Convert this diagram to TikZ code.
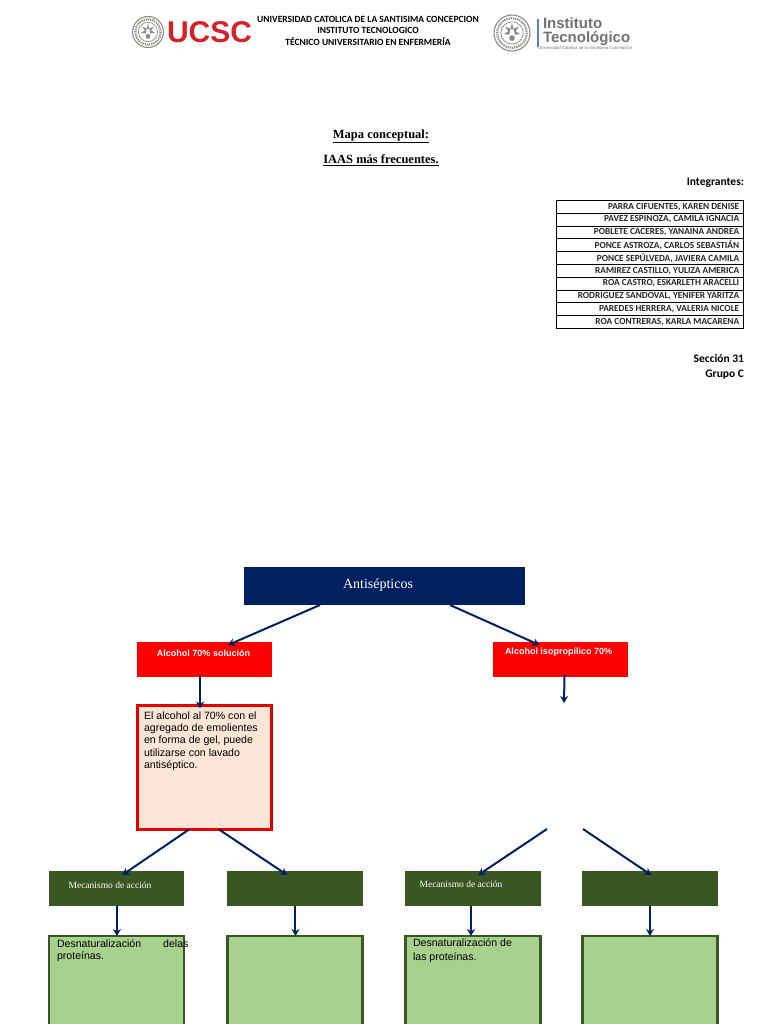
\documentclass[tikz,border=0pt]{standalone}
\usepackage{fontspec}
\setmainfont{Liberation Sans}
\newfontfamily\serifx{Liberation Serif}
\newfontfamily\calib{Carlito}
\usetikzlibrary{arrows.meta,calc}
\definecolor{navy}{HTML}{002060}
\definecolor{peach}{HTML}{FBE5D6}
\definecolor{dgreen}{HTML}{385723}
\definecolor{lgreen}{HTML}{A9D18E}
\definecolor{ucsc}{HTML}{D2232A}
\definecolor{sealc}{HTML}{8C8C84}
\definecolor{itgray}{HTML}{6E7378}
\definecolor{itblue}{HTML}{5B7FC4}
\tikzset{
 mbox/.style={inner sep=0pt,outer sep=0pt,anchor=north west},
 navybox/.style={mbox,fill=navy,minimum width=281,minimum height=38},
 redbox/.style={mbox,fill=red,minimum width=135,minimum height=34.5},
 peachbox/.style={mbox,fill=peach,draw=red!90!black,line width=2.6,minimum width=134,minimum height=124},
 darkbox/.style={mbox,fill=dgreen,minimum width=135.5,minimum height=35},
 lightbox/.style={mbox,fill=lgreen,draw=dgreen,line width=2.4,minimum width=135,minimum height=110},
 conn/.style={draw=navy,line width=2,-{Stealth[length=7,width=8]}},
 txt/.style={inner sep=0pt,outer sep=0pt},
 redlabel/.style={txt,text=white,font=\fontsize{9}{10}\selectfont\bfseries},
 greenlabel/.style={txt,text=white,font=\fontsize{9.5}{11}\serifx},
 bodytxt/.style={txt,anchor=north west,align=left,font=\fontsize{10.6}{12.4}\selectfont},
 headtxt/.style={txt,font=\fontsize{9.5}{11.5}\calib\bfseries,align=center},
 titletxt/.style={txt,font=\fontsize{12.5}{14}\serifx\bfseries},
 rowbox/.style={mbox,draw=black,line width=.7,minimum width=187,minimum height=12.8},
 nametxt/.style={txt,anchor=east,font=\fontsize{9.3}{11}\calib\bfseries,text=black!85},
 sidetxt/.style={txt,anchor=east,font=\fontsize{11.5}{13}\calib\bfseries},
 sealdisc/.style={draw=sealc,line width=1.1,fill=white},
}
\newcommand{\sealmark}[3]{%
 \begin{scope}[shift={(#1,#2)}]
  \path[sealdisc] (0,0) circle (#3);
  \path[draw=sealc,line width=2.2,dash pattern=on 1.2 off 1] (0,0) circle ({#3*.82});
  \path[draw=sealc,line width=.7] (0,0) circle ({#3*.62});
  \path[fill=sealc] (0,{-#3*.55}) -- ({#3*.16},{#3*.1}) -- ({#3*.45},{#3*.05}) -- ({#3*.2},{-#3*.1}) -- ({#3*.38},{-#3*.35}) -- (0,{-#3*.2}) -- ({-#3*.38},{-#3*.35}) -- ({-#3*.2},{-#3*.1}) -- ({-#3*.45},{#3*.05}) -- ({-#3*.16},{#3*.1}) -- cycle;
  \path[fill=sealc] (0,{#3*.28}) circle ({#3*.16});
 \end{scope}}
\begin{document}
\begin{tikzpicture}[x=1pt,y=-1pt]
\useasboundingbox (0,0) rectangle (768,1024);
\clip (0,0) rectangle (768,1024);
\fill[white] (0,0) rectangle (768,1024);
% logos
\sealmark{148}{32}{15.5}
\node[txt,anchor=west,text=ucsc,font=\fontsize{30}{30}\selectfont\bfseries] (ucsclogo) at (167,32.5) {UCSC};
\sealmark{512}{33}{18}
\fill[itblue] (537,19) rectangle (539,47);
\node[txt,anchor=west,text=itgray,font=\fontsize{15}{14.5}\selectfont\bfseries,align=left] (itlogo) at (543,31.5) {Instituto\\Tecnológico};
\node[txt,anchor=west,text=itgray,font=\fontsize{4.3}{5}\selectfont] (itsub) at (538,48.5) {Universidad Católica de la Santísima Concepción};
\node[headtxt] (uni) at (368,30.5) {UNIVERSIDAD CATOLICA DE LA SANTISIMA CONCEPCION\\INSTITUTO TECNOLOGICO\\TÉCNICO UNIVERSITARIO EN ENFERMERÍA};
% titles
\node[titletxt] (t1) at (381,136.5) {\underline{Mapa conceptual:}};
\node[titletxt] (t2) at (381,160) {\underline{IAAS más frecuentes.}};
\node[sidetxt] (integ) at (744,183) {Integrantes:};
% table
\foreach \i/\nm in {0/{PARRA CIFUENTES, KAREN DENISE},1/{PAVEZ ESPINOZA, CAMILA IGNACIA},2/{POBLETE CACERES, YANAINA ANDREA},3/{PONCE ASTROZA, CARLOS SEBASTIÁN},4/{PONCE SEPÚLVEDA, JAVIERA CAMILA},5/{RAMIREZ CASTILLO, YULIZA AMERICA},6/{ROA CASTRO, ESKARLETH ARACELLI},7/{RODRIGUEZ SANDOVAL, YENIFER YARITZA},8/{PAREDES HERRERA, VALERIA NICOLE},9/{ROA CONTRERAS, KARLA MACARENA}}{
 \node[rowbox] (row\i) at (556.7,{200.3+\i*12.8}) {};
 \node[nametxt] (nm\i) at ($(row\i.east)+(-4.5,0)$) {\nm};
}
\node[sidetxt] (sec) at (744,359) {Sección 31};
\node[sidetxt] (grp) at (744,374.5) {Grupo C};
% concept map
\node[navybox] (anti) at (244,567) {};
\node[txt,text=white,font=\fontsize{14}{16}\serifx] (antit) at (378,585) {Antisépticos};
\node[redbox] (r1) at (137,642) {};
\node[redlabel] (r1t) at (203.5,653) {Alcohol 70\% solución};
\node[redbox] (r2) at (493,642) {};
\node[redlabel] (r2t) at (558.5,652) {Alcohol isopropílico 70\%};
\node[peachbox] (pb) at (137.5,705.5) {};
\node[bodytxt] (pbt) at (144,711.5) {El alcohol al 70\% con el\\agregado de emolientes\\en forma de gel, puede\\utilizarse con lavado\\antiséptico.};
\foreach \n/\x in {d1/48.5,d2/227,d3/405,d4/582}
  \node[darkbox] (\n) at (\x,871) {};
\node[greenlabel] (d1t) at (110,885.5) {Mecanismo de acción};
\node[greenlabel] (d3t) at (461,884.5) {Mecanismo de acción};
\foreach \n/\x in {l1/49,l2/227.5,l3/405.5,l4/582.5}
  \node[lightbox] (\n) at (\x,936) {};
\node[bodytxt,text width=118] (l1t) at (57,939.5) {\hbox to 118pt{Desnaturalización\hfill de}las proteínas.};
\node[bodytxt,font=\fontsize{10.6}{14}\selectfont] (l3t) at (413,938.5) {Desnaturalización de\\las proteínas.};
% free ends around the missing box
\coordinate (f0) at (564,703);
\coordinate (f1) at (547,829);
\coordinate (f2) at (583,829);
% connectors
\draw[conn] ([xshift=-64.5]anti.south) -- ([xshift=23.5,yshift=-3]r1.north);
\draw[conn] ([xshift=65.5]anti.south) -- ([xshift=-21,yshift=-3]r2.north);
\draw[conn] ([xshift=-4.5,yshift=2]r1.south) -- ([xshift=-4.5,yshift=-3]pb.north);
\draw[conn] ([xshift=4,yshift=2]r2.south) -- (f0);
\draw[conn] ([xshift=-15.5]pb.south) -- ([xshift=6,yshift=-4]d1.north);
\draw[conn] ([xshift=14.5]pb.south) -- ([xshift=-7.5,yshift=-4]d2.north);
\draw[conn] (f1) -- ([xshift=5.5,yshift=-4]d3.north);
\draw[conn] (f2) -- ([xshift=1.5,yshift=-4]d4.north);
\draw[conn] ([xshift=.7]d1.south) -- ([xshift=.7]d1.south |- l1.north);
\draw[conn] ([xshift=.7]d2.south) -- ([xshift=.7]d2.south |- l2.north);
\draw[conn] ([xshift=-1.8]d3.south) -- ([xshift=-1.8]d3.south |- l3.north);
\draw[conn] ([xshift=.2]d4.south) -- ([xshift=.2]d4.south |- l4.north);
\end{tikzpicture}
\end{document}
